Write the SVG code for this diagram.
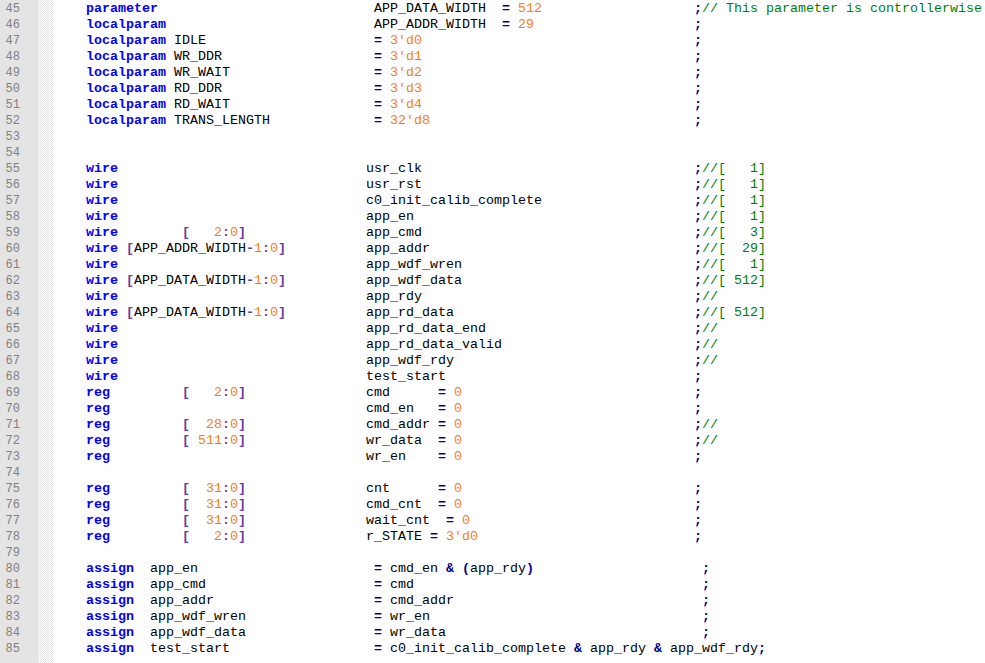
<svg xmlns="http://www.w3.org/2000/svg" width="985" height="663" viewBox="0 0 985 663">
<defs>
<pattern id="chk" width="2" height="2" patternUnits="userSpaceOnUse"><rect width="2" height="2" fill="#ffffff"/><rect width="1" height="1" fill="#e6e6e6"/><rect x="1" y="1" width="1" height="1" fill="#e6e6e6"/></pattern>
<style>
text{font-family:"Liberation Mono","Courier New",monospace;font-size:13.33px;fill:#000000;white-space:pre}
.k{fill:#0000ff;font-weight:bold}
.o{fill:#000080;font-weight:bold}
.b{fill:#6a3d9a;font-weight:bold}
.n{fill:#ff8000}
.c{fill:#008000}
.ln text{fill:#808080;font-size:12px;text-anchor:end}
</style>
</defs>
<rect width="985" height="663" fill="#ffffff"/>
<rect x="0" y="0" width="38" height="663" fill="#e4e4e4"/>
<rect x="38" y="0" width="15" height="663" fill="url(#chk)"/>
<g class="ln">
<text x="20" y="12">45</text><text x="20" y="28">46</text><text x="20" y="44">47</text><text x="20" y="60">48</text><text x="20" y="76">49</text><text x="20" y="92">50</text><text x="20" y="108">51</text><text x="20" y="124">52</text><text x="20" y="140">53</text><text x="20" y="156">54</text><text x="20" y="172">55</text><text x="20" y="188">56</text><text x="20" y="204">57</text><text x="20" y="220">58</text><text x="20" y="236">59</text><text x="20" y="252">60</text><text x="20" y="268">61</text><text x="20" y="284">62</text><text x="20" y="300">63</text><text x="20" y="316">64</text><text x="20" y="332">65</text><text x="20" y="348">66</text><text x="20" y="364">67</text><text x="20" y="380">68</text><text x="20" y="396">69</text><text x="20" y="412">70</text><text x="20" y="428">71</text><text x="20" y="444">72</text><text x="20" y="460">73</text><text x="20" y="476">74</text><text x="20" y="492">75</text><text x="20" y="508">76</text><text x="20" y="524">77</text><text x="20" y="540">78</text><text x="20" y="556">79</text><text x="20" y="572">80</text><text x="20" y="588">81</text><text x="20" y="604">82</text><text x="20" y="620">83</text><text x="20" y="636">84</text><text x="20" y="652">85</text>
</g>
<g id="code">
<text y="12"><tspan x="86" class="k">parameter</tspan><tspan x="374">APP_DATA_WIDTH</tspan><tspan x="502" class="o">=</tspan><tspan x="518" class="n">512</tspan><tspan x="694" class="o">;</tspan><tspan x="702" class="c">// This parameter is controllerwise</tspan></text>
<text y="28"><tspan x="86" class="k">localparam</tspan><tspan x="374">APP_ADDR_WIDTH</tspan><tspan x="502" class="o">=</tspan><tspan x="518" class="n">29</tspan><tspan x="694" class="o">;</tspan></text>
<text y="44"><tspan x="86" class="k">localparam</tspan><tspan x="174">IDLE</tspan><tspan x="374" class="o">=</tspan><tspan x="390" class="n">3'd0</tspan><tspan x="694" class="o">;</tspan></text>
<text y="60"><tspan x="86" class="k">localparam</tspan><tspan x="174">WR_DDR</tspan><tspan x="374" class="o">=</tspan><tspan x="390" class="n">3'd1</tspan><tspan x="694" class="o">;</tspan></text>
<text y="76"><tspan x="86" class="k">localparam</tspan><tspan x="174">WR_WAIT</tspan><tspan x="374" class="o">=</tspan><tspan x="390" class="n">3'd2</tspan><tspan x="694" class="o">;</tspan></text>
<text y="92"><tspan x="86" class="k">localparam</tspan><tspan x="174">RD_DDR</tspan><tspan x="374" class="o">=</tspan><tspan x="390" class="n">3'd3</tspan><tspan x="694" class="o">;</tspan></text>
<text y="108"><tspan x="86" class="k">localparam</tspan><tspan x="174">RD_WAIT</tspan><tspan x="374" class="o">=</tspan><tspan x="390" class="n">3'd4</tspan><tspan x="694" class="o">;</tspan></text>
<text y="124"><tspan x="86" class="k">localparam</tspan><tspan x="174">TRANS_LENGTH</tspan><tspan x="374" class="o">=</tspan><tspan x="390" class="n">32'd8</tspan><tspan x="694" class="o">;</tspan></text>

<text y="172"><tspan x="86" class="k">wire</tspan><tspan x="366">usr_clk</tspan><tspan x="694" class="o">;</tspan><tspan x="702" class="c">//[   1]</tspan></text>
<text y="188"><tspan x="86" class="k">wire</tspan><tspan x="366">usr_rst</tspan><tspan x="694" class="o">;</tspan><tspan x="702" class="c">//[   1]</tspan></text>
<text y="204"><tspan x="86" class="k">wire</tspan><tspan x="366">c0_init_calib_complete</tspan><tspan x="694" class="o">;</tspan><tspan x="702" class="c">//[   1]</tspan></text>
<text y="220"><tspan x="86" class="k">wire</tspan><tspan x="366">app_en</tspan><tspan x="694" class="o">;</tspan><tspan x="702" class="c">//[   1]</tspan></text>
<text y="236"><tspan x="86" class="k">wire</tspan><tspan x="182" class="b">[</tspan><tspan x="214" class="n">2</tspan><tspan x="222" class="b">:</tspan><tspan x="230" class="n">0</tspan><tspan x="238" class="b">]</tspan><tspan x="366">app_cmd</tspan><tspan x="694" class="o">;</tspan><tspan x="702" class="c">//[   3]</tspan></text>
<text y="252"><tspan x="86" class="k">wire</tspan><tspan x="126" class="b">[</tspan><tspan x="134">APP_ADDR_WIDTH</tspan><tspan x="246" class="b">-</tspan><tspan x="254" class="n">1</tspan><tspan x="262" class="b">:</tspan><tspan x="270" class="n">0</tspan><tspan x="278" class="b">]</tspan><tspan x="366">app_addr</tspan><tspan x="694" class="o">;</tspan><tspan x="702" class="c">//[  29]</tspan></text>
<text y="268"><tspan x="86" class="k">wire</tspan><tspan x="366">app_wdf_wren</tspan><tspan x="694" class="o">;</tspan><tspan x="702" class="c">//[   1]</tspan></text>
<text y="284"><tspan x="86" class="k">wire</tspan><tspan x="126" class="b">[</tspan><tspan x="134">APP_DATA_WIDTH</tspan><tspan x="246" class="b">-</tspan><tspan x="254" class="n">1</tspan><tspan x="262" class="b">:</tspan><tspan x="270" class="n">0</tspan><tspan x="278" class="b">]</tspan><tspan x="366">app_wdf_data</tspan><tspan x="694" class="o">;</tspan><tspan x="702" class="c">//[ 512]</tspan></text>
<text y="300"><tspan x="86" class="k">wire</tspan><tspan x="366">app_rdy</tspan><tspan x="694" class="o">;</tspan><tspan x="702" class="c">//</tspan></text>
<text y="316"><tspan x="86" class="k">wire</tspan><tspan x="126" class="b">[</tspan><tspan x="134">APP_DATA_WIDTH</tspan><tspan x="246" class="b">-</tspan><tspan x="254" class="n">1</tspan><tspan x="262" class="b">:</tspan><tspan x="270" class="n">0</tspan><tspan x="278" class="b">]</tspan><tspan x="366">app_rd_data</tspan><tspan x="694" class="o">;</tspan><tspan x="702" class="c">//[ 512]</tspan></text>
<text y="332"><tspan x="86" class="k">wire</tspan><tspan x="366">app_rd_data_end</tspan><tspan x="694" class="o">;</tspan><tspan x="702" class="c">//</tspan></text>
<text y="348"><tspan x="86" class="k">wire</tspan><tspan x="366">app_rd_data_valid</tspan><tspan x="694" class="o">;</tspan><tspan x="702" class="c">//</tspan></text>
<text y="364"><tspan x="86" class="k">wire</tspan><tspan x="366">app_wdf_rdy</tspan><tspan x="694" class="o">;</tspan><tspan x="702" class="c">//</tspan></text>
<text y="380"><tspan x="86" class="k">wire</tspan><tspan x="366">test_start</tspan><tspan x="694" class="o">;</tspan></text>

<text y="396"><tspan x="86" class="k">reg</tspan><tspan x="182" class="b">[</tspan><tspan x="214" class="n">2</tspan><tspan x="222" class="b">:</tspan><tspan x="230" class="n">0</tspan><tspan x="238" class="b">]</tspan><tspan x="366">cmd</tspan><tspan x="438" class="o">=</tspan><tspan x="454" class="n">0</tspan><tspan x="694" class="o">;</tspan></text>
<text y="412"><tspan x="86" class="k">reg</tspan><tspan x="366">cmd_en</tspan><tspan x="438" class="o">=</tspan><tspan x="454" class="n">0</tspan><tspan x="694" class="o">;</tspan></text>
<text y="428"><tspan x="86" class="k">reg</tspan><tspan x="182" class="b">[</tspan><tspan x="206" class="n">28</tspan><tspan x="222" class="b">:</tspan><tspan x="230" class="n">0</tspan><tspan x="238" class="b">]</tspan><tspan x="366">cmd_addr</tspan><tspan x="438" class="o">=</tspan><tspan x="454" class="n">0</tspan><tspan x="694" class="o">;</tspan><tspan x="702" class="c">//</tspan></text>
<text y="444"><tspan x="86" class="k">reg</tspan><tspan x="182" class="b">[</tspan><tspan x="198" class="n">511</tspan><tspan x="222" class="b">:</tspan><tspan x="230" class="n">0</tspan><tspan x="238" class="b">]</tspan><tspan x="366">wr_data</tspan><tspan x="438" class="o">=</tspan><tspan x="454" class="n">0</tspan><tspan x="694" class="o">;</tspan><tspan x="702" class="c">//</tspan></text>
<text y="460"><tspan x="86" class="k">reg</tspan><tspan x="366">wr_en</tspan><tspan x="438" class="o">=</tspan><tspan x="454" class="n">0</tspan><tspan x="694" class="o">;</tspan></text>

<text y="492"><tspan x="86" class="k">reg</tspan><tspan x="182" class="b">[</tspan><tspan x="206" class="n">31</tspan><tspan x="222" class="b">:</tspan><tspan x="230" class="n">0</tspan><tspan x="238" class="b">]</tspan><tspan x="366">cnt</tspan><tspan x="438" class="o">=</tspan><tspan x="454" class="n">0</tspan><tspan x="694" class="o">;</tspan></text>
<text y="508"><tspan x="86" class="k">reg</tspan><tspan x="182" class="b">[</tspan><tspan x="206" class="n">31</tspan><tspan x="222" class="b">:</tspan><tspan x="230" class="n">0</tspan><tspan x="238" class="b">]</tspan><tspan x="366">cmd_cnt</tspan><tspan x="438" class="o">=</tspan><tspan x="454" class="n">0</tspan><tspan x="694" class="o">;</tspan></text>
<text y="524"><tspan x="86" class="k">reg</tspan><tspan x="182" class="b">[</tspan><tspan x="206" class="n">31</tspan><tspan x="222" class="b">:</tspan><tspan x="230" class="n">0</tspan><tspan x="238" class="b">]</tspan><tspan x="366">wait_cnt</tspan><tspan x="446" class="o">=</tspan><tspan x="462" class="n">0</tspan><tspan x="694" class="o">;</tspan></text>
<text y="540"><tspan x="86" class="k">reg</tspan><tspan x="182" class="b">[</tspan><tspan x="214" class="n">2</tspan><tspan x="222" class="b">:</tspan><tspan x="230" class="n">0</tspan><tspan x="238" class="b">]</tspan><tspan x="366">r_STATE</tspan><tspan x="430" class="o">=</tspan><tspan x="446" class="n">3'd0</tspan><tspan x="694" class="o">;</tspan></text>

<text y="572"><tspan x="86" class="k">assign</tspan><tspan x="150">app_en</tspan><tspan x="374" class="o">=</tspan><tspan x="390">cmd_en</tspan><tspan x="446" class="o">&amp;</tspan><tspan x="462" class="o">(</tspan><tspan x="470">app_rdy</tspan><tspan x="526" class="o">)</tspan><tspan x="702" class="o">;</tspan></text>
<text y="588"><tspan x="86" class="k">assign</tspan><tspan x="150">app_cmd</tspan><tspan x="374" class="o">=</tspan><tspan x="390">cmd</tspan><tspan x="702" class="o">;</tspan></text>
<text y="604"><tspan x="86" class="k">assign</tspan><tspan x="150">app_addr</tspan><tspan x="374" class="o">=</tspan><tspan x="390">cmd_addr</tspan><tspan x="702" class="o">;</tspan></text>
<text y="620"><tspan x="86" class="k">assign</tspan><tspan x="150">app_wdf_wren</tspan><tspan x="374" class="o">=</tspan><tspan x="390">wr_en</tspan><tspan x="702" class="o">;</tspan></text>
<text y="636"><tspan x="86" class="k">assign</tspan><tspan x="150">app_wdf_data</tspan><tspan x="374" class="o">=</tspan><tspan x="390">wr_data</tspan><tspan x="702" class="o">;</tspan></text>
<text y="652"><tspan x="86" class="k">assign</tspan><tspan x="150">test_start</tspan><tspan x="374" class="o">=</tspan><tspan x="390">c0_init_calib_complete</tspan><tspan x="574" class="o">&amp;</tspan><tspan x="590">app_rdy</tspan><tspan x="654" class="o">&amp;</tspan><tspan x="670">app_wdf_rdy</tspan><tspan x="758" class="o">;</tspan></text>
</g>
</svg>
